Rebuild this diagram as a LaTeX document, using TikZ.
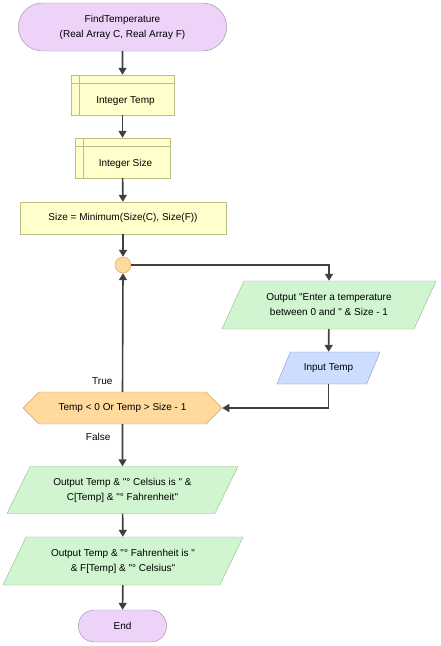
\documentclass[tikz,border=0pt]{standalone}
\usepackage{fontspec}
\setmainfont{Liberation Sans}
\usetikzlibrary{arrows.meta,shapes.geometric,shapes.misc,shapes.symbols}
\definecolor{termfill}{HTML}{EDD3F8}
\definecolor{termline}{HTML}{A084B0}
\definecolor{boxfill}{HTML}{FFFFCC}
\definecolor{boxline}{HTML}{BDBD88}
\definecolor{outfill}{HTML}{D0F5D0}
\definecolor{outline}{HTML}{88BB88}
\definecolor{infill}{HTML}{CCDDFF}
\definecolor{inline}{HTML}{8099CC}
\definecolor{decfill}{HTML}{FFDA9C}
\definecolor{decline}{HTML}{C9A466}
\definecolor{flow}{HTML}{404040}
\newcommand{\dq}{\textquotedbl}
\tikzset{
  every node/.style={font=\fontsize{10}{15}\selectfont, align=center},
  term/.style={rounded rectangle, draw=termline, fill=termfill},
  decl/.style={rectangle, draw=boxline, fill=boxfill,
    path picture={
      \draw[boxline] ([xshift=8pt]path picture bounding box.north west) -- ([xshift=8pt]path picture bounding box.south west);
      \draw[boxline] ([yshift=-8pt]path picture bounding box.north west) -- ([yshift=-8pt]path picture bounding box.north east);}},
  assign/.style={rectangle, draw=boxline, fill=boxfill},
  io/.style={trapezium, trapezium left angle=63, trapezium right angle=117,
    trapezium stretches body, inner xsep=0pt},
  outbox/.style={io, draw=outline, fill=outfill, inner ysep=10.5pt},
  inbox/.style={io, draw=inline, fill=infill, inner ysep=10.5pt, trapezium left angle=66, trapezium right angle=114},
  choice/.style={signal, signal to=west and east, signal pointer angle=90,
    draw=decline, fill=decfill, inner sep=0pt},
  joint/.style={circle, draw=decline, fill=decfill, minimum size=16pt, inner sep=0pt},
  flowline/.style={draw=flow, line width=1.6pt, -{Triangle[length=7pt,width=8pt]}}
}

\begin{document}
\begin{tikzpicture}[x=1pt,y=-1pt]
  \useasboundingbox (0,0) rectangle (440,646);

  \node[term, minimum width=215pt, minimum height=48pt] (start) at (122.5,27) {FindTemperature\\(Real Array C, Real Array F)};
  \node[decl, minimum width=103pt, minimum height=40pt] (temp) at (122.5,95) {\raisebox{-8pt}[0pt][0pt]{\hspace*{6pt}Integer Temp}};
  \node[decl, minimum width=95pt, minimum height=40pt] (size) at (122.5,158) {\raisebox{-8pt}[0pt][0pt]{\hspace*{6pt}Integer Size}};
  \node[assign, minimum width=206pt, minimum height=32pt] (minsize) at (123,218) {Size = Minimum(Size(C), Size(F))};
  \node[joint] (join) at (123,265) {};
  \node[outbox, minimum width=214pt, minimum height=48pt] (askout) at (329,305) {Output \dq Enter a temperature\\between 0 and \dq{} \& Size - 1};
  \node[inbox, minimum width=103pt, minimum height=32pt] (readin) at (328.5,368) {Input Temp};
  \node[choice, minimum width=199pt, minimum height=32pt] (check) at (122.5,408) {Temp < 0 Or Temp > Size - 1};
  \node[outbox, minimum width=231pt, minimum height=47pt] (celsius) at (122.5,490) {Output Temp \& \dq° Celsius is \dq{} \&\\C[Temp] \& \dq° Fahrenheit\dq};
  \node[outbox, minimum width=240pt, minimum height=48pt] (fahr) at (123,561) {Output Temp \& \dq° Fahrenheit is \dq\\\& F[Temp] \& \dq° Celsius\dq};
  \node[term, minimum width=95pt, minimum height=32pt] (stop) at (122.5,626) {End};

  \draw[flowline] (start) -- (temp);
  \draw[flowline] (temp) -- (size);
  \draw[flowline] (size) -- (minsize);
  \draw[flowline] (minsize) -- (join);
  \draw[flowline] (join.east) -| (askout.north);
  \draw[flowline] (askout) -- (readin);
  \draw[flowline] (readin.south) |- (check.east);
  \draw[flowline] (check.north) -- node[pos=0.09, left=6pt] {True} (join.south);
  \draw[flowline] (check.south) -- node[pos=0.3, left=8pt] {False} (celsius.north);
  \draw[flowline] (celsius) -- (fahr);
  \draw[flowline] (fahr) -- (stop);
\end{tikzpicture}
\end{document}
